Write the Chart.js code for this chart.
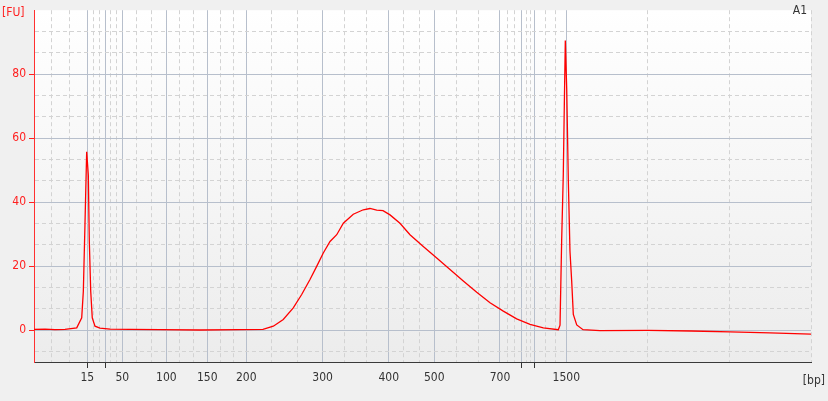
<!DOCTYPE html>
<html>
<head>
<meta charset="utf-8">
<script src="https://cdn.jsdelivr.net/npm/chart.js@4.4.1/dist/chart.umd.min.js"></script>
<style>
  html, body { margin: 0; padding: 0; background: #f0f0f0; }
</style>
</head>
<body>
<canvas id="myChart" width="828" height="401"></canvas>
<script>
// Ladder bands: size in bp and migration position (axis units 0..100)
const ladderBp = [15, 25, 50, 100, 150, 200, 300, 400, 500, 700, 850, 1000, 1500];
const ladderPos = [6.86, 9.18, 11.36, 17.03, 22.30, 27.32, 37.14, 45.65, 51.51, 59.97, 62.80, 64.40, 68.51];
const ladderLabels = ["15", "", "50", "100", "150", "200", "300", "400", "500", "700", "", "", "1500"];
const markedBp = [15, 25, 850, 1000];

// Sample trace
const traceX = [0, 1.42, 2.70, 3.99, 5.50, 6.14, 6.35, 6.56, 6.78, 6.99, 7.12, 7.30, 7.50, 7.85, 8.49, 9.78,
  12.36, 16.22, 21.36, 26.51, 29.47, 30.80, 32.08, 33.37, 34.45, 35.52, 36.38, 37.23, 38.10, 38.96,
  39.81, 41.09, 42.38, 43.24, 44.11, 44.92, 45.82, 47.10, 48.39, 50.10, 51.83, 53.54, 55.25, 56.98,
  58.69, 60.40, 62.12, 63.84, 65.55, 67.48, 67.70, 67.91, 68.12, 68.25, 68.38, 68.56, 68.77, 68.98,
  69.20, 69.41, 69.85, 70.66, 72.84, 79.02, 84.56, 89.58, 94.72, 100];
const traceFU = [0.2, 0.3, 0.1, 0.2, 0.7, 3.8, 12.1, 33.0, 55.7, 48.5, 27.7, 12.1, 3.8, 1.2, 0.6, 0.3,
  0.2, 0.1, 0.0, 0.1, 0.2, 1.2, 3.3, 6.9, 11.1, 15.8, 19.9, 24.1, 27.7, 29.8,
  33.4, 36.2, 37.6, 38.0, 37.5, 37.3, 36.0, 33.4, 29.8, 26.1, 22.5, 18.9, 15.3, 11.8,
  8.5, 5.9, 3.5, 1.8, 0.7, 0.1, 1.5, 28.0, 48.6, 70.0, 90.5, 75.4, 46.4, 24.6,
  15.3, 4.9, 1.6, 0.1, -0.2, -0.1, -0.3, -0.6, -0.9, -1.3];

const yMajor = [0, 20, 40, 60, 80];
const yMin = -10, yMax = 100;
const xMin = 0, xMax = 100;

// x ticks: ladder bands plus two dashed lines between each pair
const xEdges = [xMin, ...ladderPos, xMax];
const xTicks = [];
for (let i = 0; i < xEdges.length - 1; i++) {
  const a = xEdges[i], b = xEdges[i + 1];
  if (i > 0) {
    const bp = ladderBp[i - 1];
    xTicks.push({ value: a, kind: "major", lab: ladderLabels[i - 1], mark: markedBp.includes(bp) });
  }
  xTicks.push({ value: a + (b - a) / 3, kind: "minor", lab: "" });
  xTicks.push({ value: a + 2 * (b - a) / 3, kind: "minor", lab: "" });
}
xTicks.push({ value: xMax, kind: "minor", lab: "" });

// y ticks: every 20 solid, thirds dashed
const yStep = (yMajor[1] - yMajor[0]) / 3;
const yTicks = [];
for (let k = -1; k * yStep < yMax - 0.01; k++) {
  const v = k * yStep;
  const major = yMajor.some(m => Math.abs(m - v) < 0.01);
  yTicks.push({ value: v, kind: major ? "major" : "minor", lab: major ? String(Math.round(v)) : "" });
}

const MAJOR_GRID = "#b7bfcc";
const MINOR_GRID = "#d3d3d3";
const kindOf = c => (c.tick ? c.tick.kind : "none");

const decor = {
  id: "decor",
  beforeDraw(chart) {
    const { ctx, chartArea: a } = chart;
    ctx.save();
    ctx.fillStyle = "#f0f0f0";
    ctx.fillRect(0, 0, chart.width, chart.height);
    const g = ctx.createLinearGradient(0, a.top, 0, a.bottom);
    g.addColorStop(0, "#ffffff");
    g.addColorStop(1, "#ececec");
    ctx.fillStyle = g;
    ctx.fillRect(a.left, a.top, a.right - a.left, a.bottom - a.top);
    ctx.restore();
  },
  afterDraw(chart) {
    const { ctx, chartArea: a } = chart;
    ctx.save();
    ctx.font = '12px "DejaVu Sans Condensed", "DejaVu Sans", sans-serif';
    ctx.textBaseline = "alphabetic";
    ctx.fillStyle = "#ff2020";
    ctx.textAlign = "left";
    ctx.fillText("[FU]", 2, a.top + 6);
    ctx.fillStyle = "#333333";
    ctx.textAlign = "right";
    ctx.fillText("[bp]", chart.width - 3, a.bottom + 22);
    ctx.fillText("A1", a.right - 4, a.top + 4);
    ctx.restore();
  }
};

const ctx = document.getElementById("myChart").getContext("2d");
const chart = new Chart(ctx, {
  type: "line",
  data: {
    datasets: [{
      data: traceX.map((x, i) => ({ x: x, y: traceFU[i] })),
      borderColor: "#ff0000",
      borderWidth: 1.3,
      pointRadius: 0,
      tension: 0,
      fill: false
    }]
  },
  options: {
    responsive: false,
    animation: false,
    layout: { padding: { top: 9, right: 17, left: 0, bottom: 0 } },
    plugins: { legend: { display: false }, tooltip: { enabled: false } },
    scales: {
      x: {
        type: "linear",
        min: xMin,
        max: xMax,
        afterBuildTicks: s => { s.ticks = xTicks.map(t => Object.assign({}, t)); },
        afterFit: s => { s.height = 39; },
        ticks: {
          autoSkip: false,
          maxRotation: 0,
          padding: 3,
          color: "#333333",
          font: { family: '"DejaVu Sans Condensed", "DejaVu Sans", sans-serif', size: 12 },
          callback: (v, i, ticks) => ticks[i].lab || ""
        },
        grid: {
          color: c => (kindOf(c) === "major" ? MAJOR_GRID : MINOR_GRID),
          lineWidth: 1,
          tickLength: 6,
          tickColor: c => (c.tick && c.tick.mark ? "#333333" : "rgba(0,0,0,0)")
        },
        border: {
          color: "#3a3a3a",
          width: 1,
          dash: c => (kindOf(c) === "minor" ? [4, 3] : [])
        }
      },
      y: {
        type: "linear",
        min: yMin,
        max: yMax,
        afterBuildTicks: s => { s.ticks = yTicks.map(t => Object.assign({}, t)); },
        afterFit: s => { s.width = 34; },
        ticks: {
          autoSkip: false,
          padding: 3,
          color: "#ff2020",
          font: { family: '"DejaVu Sans Condensed", "DejaVu Sans", sans-serif', size: 12 },
          callback: (v, i, ticks) => ticks[i].lab || ""
        },
        grid: {
          color: c => (kindOf(c) === "major" ? MAJOR_GRID : MINOR_GRID),
          lineWidth: 1,
          tickLength: 5,
          tickColor: c => (kindOf(c) === "major" ? "#ff2020" : "rgba(0,0,0,0)")
        },
        border: {
          color: "#ff3030",
          width: 1,
          dash: c => (kindOf(c) === "minor" ? [4, 3] : [])
        }
      }
    }
  },
  plugins: [decor]
});
</script>
</body>
</html>
